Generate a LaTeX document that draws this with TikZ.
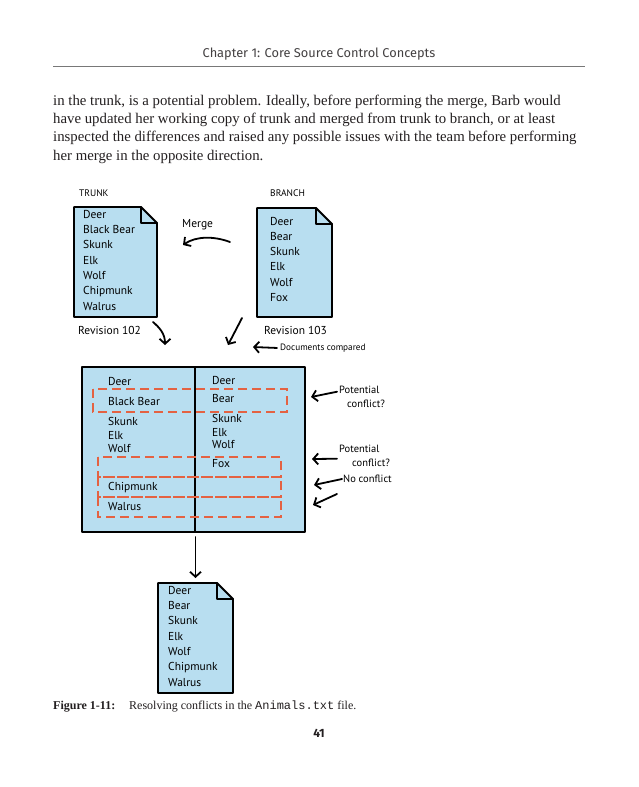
\documentclass[tikz,border=0pt]{standalone}
\usepackage{fontspec}
\setmainfont{Liberation Serif}
\setmonofont{Liberation Mono}
\newfontfamily\handfont{PT Sans}
\newfontfamily\headfont{Fira Sans}
\usetikzlibrary{positioning,calc,arrows.meta}

\definecolor{sheetblue}{RGB}{184,222,240}
\definecolor{conflictred}{RGB}{228,98,66}
\definecolor{inktext}{RGB}{35,31,32}
\definecolor{rulegray}{RGB}{120,120,120}

% outline of a sheet with a folded corner, drawn round a named node
\newcommand{\drawsheet}[1]{%
  \filldraw[sheet] (#1.north west) -- ([xshift=-16pt]#1.north east) -- ([yshift=-16pt]#1.north east)
    -- (#1.south east) -- (#1.south west) -- cycle;
  \draw[sketch] ([xshift=-16pt]#1.north east) |- ([yshift=-16pt]#1.north east);
}

\begin{document}
\begin{tikzpicture}[x = 1pt, y = -1pt,
                    sketch/.style = {line width = 1.8pt, line join = round, line cap = round},
                    sheet/.style = {sketch, draw = black, fill = sheetblue},
                    pagebox/.style = {anchor = north west, inner sep = 0pt, outer sep = 0pt},
                    entry/.style = {anchor = mid west, inner sep = 0pt, font = \handfont\fontsize{11.5}{13}\selectfont},
                    caps/.style = {anchor = mid west, inner sep = 0pt, font = \handfont\fontsize{9.5}{11}\selectfont},
                    note/.style = {anchor = north west, inner sep = 0pt, align = left, font = \handfont\fontsize{10.5}{13.5}\selectfont},
                    pointer/.style = {sketch, -{Straight Barb[length = 5pt, width = 11pt]}},
                    conflict/.style = {line width = 1.6pt, draw = conflictred, dash pattern = on 9pt off 5pt},
                    bodyline/.style = {anchor = base west, inner sep = 0pt, text = inktext, font = \fontsize{14.8}{18}\selectfont}]
  \fill [white] (0,0) rectangle (638,787);
  \useasboundingbox (0,0) rectangle (638,787);

  % page head and running text
  \node [inner sep = 0pt, anchor = base, text = inktext!85, font = \headfont\fontsize{12.8}{14}\selectfont] (header) at (319,57) {Chapter 1: Core Source Control Concepts};
  \draw [rulegray, line width = 0.9pt] (53,66) -- (585,66);
  \node [bodyline] (body1) at (53,105) {in the trunk, is a potential problem. Ideally, before performing the merge, Barb would};
  \node [bodyline] (body2) at (53,123.3) {have updated her working copy of trunk and merged from trunk to branch, or at least};
  \node [bodyline] (body3) at (53,141.6) {inspected the differences and raised any possible issues with the team before performing};
  \node [bodyline] (body4) at (53,160) {her merge in the opposite direction.};

  % the two revisions
  \node [pagebox, minimum width = 83pt, minimum height = 110pt] (trunk) at (74,207) {};
  \drawsheet{trunk}
  \node [pagebox, minimum width = 75pt, minimum height = 109pt] (branch) at (257,208) {};
  \drawsheet{branch}
  \node [caps] (trunklabel) at (79,194) {TRUNK};
  \node [caps] (branchlabel) at (270,194) {BRANCH};
  \foreach \animal [count = \i] in {Deer, Black Bear, Skunk, Elk, Wolf, Chipmunk, Walrus}
    \node [entry] (trunk-\i) at (83,{216+15.3*(\i-1)}) {\animal};
  \foreach \animal [count = \i] in {Deer, Bear, Skunk, Elk, Wolf, Fox}
    \node [entry] (branch-\i) at (270,{223+15.2*(\i-1)}) {\animal};

  \node [entry] (merge) at (182,225) {Merge};
  \coordinate (mergefrom) at (230,242);
  \coordinate (mergeto) at (183,245);
  \draw [pointer] (mergefrom) .. controls (214,236) and (196,236) .. (mergeto);

  \node [entry] (rev102) at (78,332) {Revision 102};
  \node [entry] (rev103) at (264,332) {Revision 103};
  \node [entry, font = \handfont\fontsize{9.2}{11}\selectfont] (compared) at (280,348) {Documents compared};
  \coordinate (leftfrom) at (153,322);
  \coordinate (leftto) at (165,345);
  \coordinate (rightfrom) at (242,318);
  \coordinate (rightto) at (228,345);
  \coordinate (comparedto) at (253,347);
  \draw [pointer] (leftfrom) .. controls (160,328) and (165,334) .. (leftto);
  \draw [pointer] (rightfrom) -- (rightto);
  \draw [pointer] ([xshift = -3pt]compared.west) -- (comparedto);

  % side by side comparison
  \node [pagebox, minimum width = 223pt, minimum height = 165pt, fill = sheetblue, draw, sketch] (compare) at (82,367) {};
  \coordinate (split) at (195,0);
  \draw [sketch] (compare.north -| split) -- (compare.south -| split);
  \foreach \animal/\ypos [count = \i] in {Deer/383, Black Bear/403, Skunk/423, Elk/437, Wolf/450, Chipmunk/488, Walrus/508}
    \node [entry] (left-\i) at (108,\ypos) {\animal};
  \foreach \animal/\ypos [count = \i] in {Deer/382, Bear/400, Skunk/420, Elk/434, Wolf/446, Fox/465}
    \node [entry] (right-\i) at (212,\ypos) {\animal};

  \draw [conflict] (93,389) rectangle (287,412);
  \draw [conflict] (98,457) rectangle (281,477);
  \draw [conflict] (98,477) rectangle (281,497);
  \draw [conflict] (98,497) rectangle (281,517);

  \node [note] (note1) at (339,386) {Potential\\\hspace*{8pt}conflict?};
  \node [note] (note2) at (339,445) {Potential\\\hspace*{13pt}conflict?};
  \node [note] (note3) at (343,475) {No conflict};
  \coordinate (hit1) at (311,397);
  \coordinate (hit2) at (312,459);
  \coordinate (hit3) at (314,485);
  \coordinate (hit4) at (313,505);
  \coordinate (tail4) at (337,494);
  \draw [pointer] ([xshift = -2pt, yshift = 5pt]note1.west) -- (hit1);
  \draw [pointer] ([xshift = -2pt, yshift = -3pt]note2.west) -- (hit2);
  \draw [pointer] ([xshift = -1pt]note3.west) -- (hit3);
  \draw [pointer] (tail4) -- (hit4);

  % merged result
  \node [pagebox, minimum width = 75pt, minimum height = 110pt] (result) at (158,583) {};
  \drawsheet{result}
  \foreach \animal [count = \i] in {Deer, Bear, Skunk, Elk, Wolf, Chipmunk, Walrus}
    \node [entry] (result-\i) at (168,{592+15.3*(\i-1)}) {\animal};
  \draw [pointer] ([yshift = -5pt]compare.south -| result.north) -- ([yshift = 5pt]result.north);

  % caption and folio
  \node [anchor = base west, inner sep = 0pt, text = inktext, font = \bfseries\fontsize{12}{14}\selectfont] (figlabel) at (53,709) {Figure 1-11:};
  \node [anchor = base west, inner sep = 0pt, text = inktext, font = \fontsize{12}{14}\selectfont] (figtext) at (129,709) {Resolving conflicts in the \texttt{Animals.txt} file.};
  \node [inner sep = 0pt, text = inktext, font = \headfont\bfseries\fontsize{12}{14}\selectfont] (folio) at (319,733) {41};
\end{tikzpicture}
\end{document}
